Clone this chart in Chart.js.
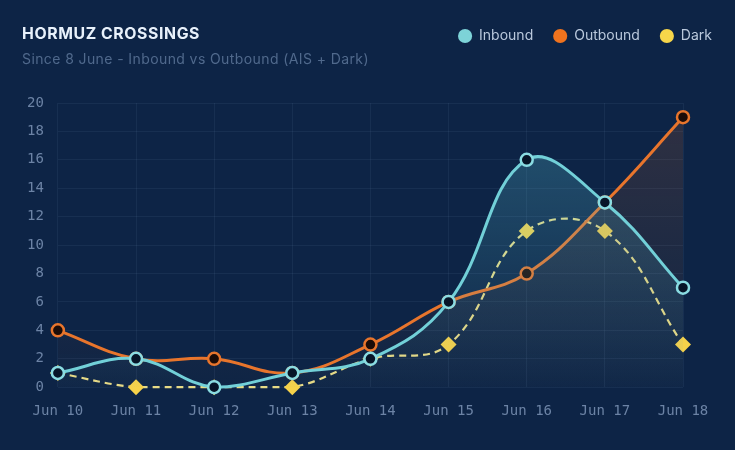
<!DOCTYPE html>
<html>
<head>
<meta charset="utf-8">
<script src="https://cdn.jsdelivr.net/npm/chart.js@4.4.1/dist/chart.umd.min.js"></script>
<style>
  html, body { margin: 0; padding: 0; background: #0d2446; }
  .card { position: relative; width: 735px; height: 450px; background: #0d2446; overflow: hidden; }
  .title { position: absolute; left: 22px; top: 24px; font-family: Inter, "Noto Sans", sans-serif; font-weight: 700; font-size: 15.8px; letter-spacing: 0.6px; color: #e8f1fb; }
  .sub { position: absolute; left: 22px; top: 50px; font-family: Inter, "Noto Sans", sans-serif; font-size: 14px; letter-spacing: 0.4px; color: #50698c; }
  canvas { position: absolute; left: 0; top: 0; }
</style>
</head>
<body>
<div class="card">
  <canvas id="chart" width="735" height="450"></canvas>
  <div class="title">HORMUZ CROSSINGS</div>
  <div class="sub">Since 8 June - Inbound vs Outbound (AIS + Dark)</div>
</div>
<script>
// valeurs
const days = ["Jun 10", "Jun 11", "Jun 12", "Jun 13", "Jun 14", "Jun 15", "Jun 16", "Jun 17", "Jun 18"];
const inbound = [1, 2, 0, 1, 2, 6, 16, 13, 7];
const outbound = [4, 2, 2, 1, 3, 6, 8, 13, 19];
const dark = [1, 0, 0, 0, 2, 3, 11, 11, 3];

const tickFont = { family: "'DejaVu Sans Mono', monospace", size: 14 };

function grad(ctx, top, bottom) {
  const area = ctx.chart.chartArea;
  if (!area) return top;
  const g = ctx.chart.ctx.createLinearGradient(0, area.top, 0, area.bottom);
  g.addColorStop(0, top);
  g.addColorStop(1, bottom);
  return g;
}

// hauteur fixe de la légende -> haut de la zone de tracé à ~103px
const legendGap = {
  id: "legendGap",
  beforeInit(chart) {
    const fit = chart.legend.fit;
    chart.legend.fit = function () {
      fit.bind(chart.legend)();
      this.height = 94;
    };
  },
};

new Chart(document.getElementById("chart"), {
  type: "line",
  data: {
    labels: days,
    datasets: [
      {
        label: "Inbound",
        data: inbound,
        borderColor: "#72d0d8",
        borderWidth: 3,
        tension: 0.4,
        fill: "origin",
        clip: false,
        backgroundColor: (ctx) => grad(ctx, "rgba(90,190,210,0.32)", "rgba(90,190,210,0.02)"),
        pointStyle: "circle",
        pointRadius: 6,
        pointBorderWidth: 2.5,
        pointBackgroundColor: "#071528",
        pointBorderColor: "#8adce2",
        order: 1,
      },
      {
        label: "Outbound",
        data: outbound,
        borderColor: "#e8752c",
        borderWidth: 3,
        tension: 0.4,
        fill: "origin",
        clip: false,
        backgroundColor: (ctx) => grad(ctx, "rgba(232,117,44,0.16)", "rgba(232,117,44,0.01)"),
        pointStyle: "circle",
        pointRadius: 6,
        pointBorderWidth: 2.5,
        pointBackgroundColor: "#1c0c08",
        pointBorderColor: "#e8752c",
        order: 2,
      },
      {
        label: "Dark",
        data: dark,
        borderColor: "#e9dc86",
        borderWidth: 2.2,
        borderDash: [7, 5],
        tension: 0.4,
        fill: false,
        clip: false,
        backgroundColor: "#f6d24a",
        pointStyle: "rectRot",
        pointRadius: 8,
        pointBorderWidth: 0,
        pointBackgroundColor: "#f6d24a",
        order: 3,
      },
    ],
  },
  options: {
    responsive: false,
    animation: false,
    layout: { padding: { left: 13, right: 3, top: 9, bottom: 14 } },
    plugins: {
      legend: {
        align: "end",
        labels: {
          usePointStyle: true,
          pointStyle: "circle",
          boxWidth: 14,
          boxHeight: 10,
          padding: 20,
          color: "#b9c8dc",
          font: { family: "Inter, 'Noto Sans', sans-serif", size: 14 },
          generateLabels(chart) {
            const cols = ["#7dd3d8", "#f0731e", "#f7d64a"];
            return chart.data.datasets.map((ds, i) => ({
              text: ds.label,
              fillStyle: cols[i],
              strokeStyle: cols[i],
              lineWidth: 0,
              pointStyle: "circle",
              fontColor: "#b9c8dc",
              datasetIndex: i,
              hidden: false,
            }));
          },
        },
      },
      tooltip: { enabled: false },
    },
    scales: {
      x: {
        grid: { color: "rgba(120,150,190,0.10)", drawTicks: false },
        border: { display: false },
        ticks: { color: "#6c83a5", font: tickFont, padding: 16, maxRotation: 0 },
      },
      y: {
        min: 0,
        max: 20,
        grid: { color: "rgba(120,150,190,0.10)", drawTicks: false },
        border: { display: false },
        ticks: { stepSize: 2, color: "#6c83a5", font: tickFont, padding: 14 },
      },
      yRight: {
        position: "right",
        grid: { display: false },
        border: { display: false },
        ticks: { display: false },
        afterFit(scale) { scale.width = 49; },
      },
    },
  },
  plugins: [legendGap],
});
</script>
</body>
</html>
